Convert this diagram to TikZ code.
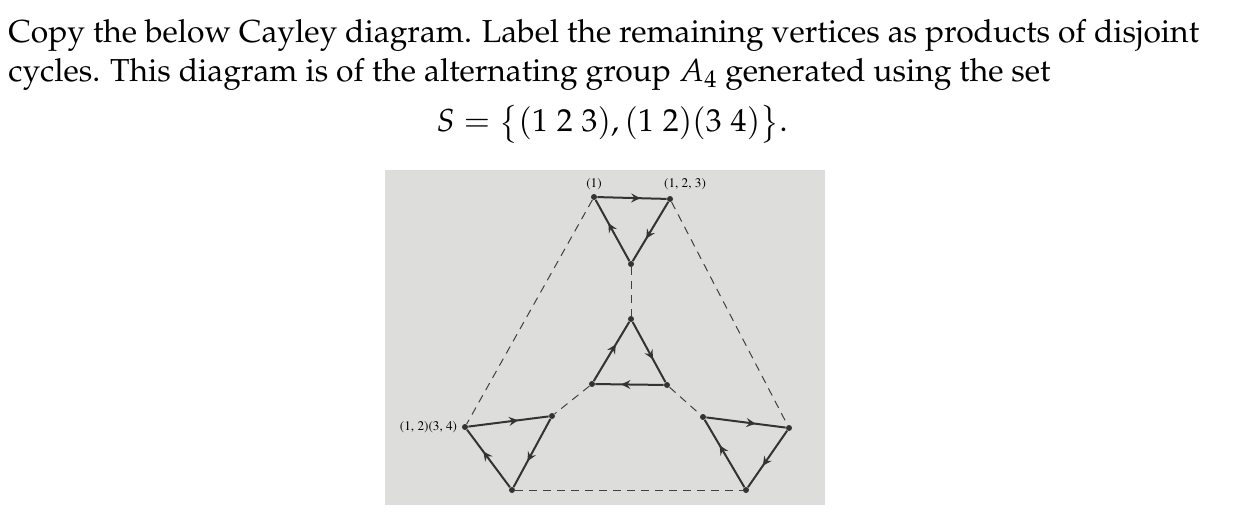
\documentclass[tikz,border=0pt]{standalone}
\usepackage[T1]{fontenc}
\usepackage{mathpazo}
\usepackage{amsmath}
\usepackage{tikz}
\usetikzlibrary{arrows, decorations.markings}

\tikzset{
  vtx/.style={circle, fill=black!80, inner sep=0pt, minimum size=3pt},
  cyc/.style={draw=black!80, line width=1pt, postaction={decorate},
    decoration={markings, mark=at position 0.62 with {\arrow{stealth}}}},
  flip/.style={draw=black!75, line width=0.5pt, dash pattern=on 4pt off 3pt},
  lbl/.style={inner sep=0.75pt, font=\fontfamily{ptm}\fontsize{6.6}{8}\selectfont},
  head/.style={inner sep=0pt, font=\fontsize{15.9}{20}\selectfont}
}

\begin{document}
\begin{tikzpicture}[x=0.5pt,y=0.5pt,yscale=-1,xscale=1]
\useasboundingbox (0,0) rectangle (1236,518);

%Shape: Photo background
\fill [color={rgb, 255:red, 221; green, 221; blue, 219}] (385,170) rectangle (825,505);

% Text Node
\node [head, anchor=base west] (line1) at (8,43) {Copy the below Cayley diagram. Label the remaining vertices as products of disjoint};
% Text Node
\node [head, anchor=base west] (line2) at (8,82) {cycles. This diagram is of the alternating group $A_4$ generated using the set};
% Text Node
\node [head, anchor=base] (set) at (612,132) {$S=\big\{(1\;2\;3),(1\;2)(3\;4)\big\}.$};

%Vertices: top triangle
\node [vtx] (e) at (594,197) {};
\node [vtx] (a) at (670,199) {};
\node [vtx] (aa) at (631,264) {};
%Vertices: middle triangle
\node [vtx] (mt) at (631,319) {};
\node [vtx] (ml) at (592,384) {};
\node [vtx] (mr) at (667,385) {};
%Vertices: left triangle
\node [vtx] (b) at (465,427) {};
\node [vtx] (lr) at (552,416) {};
\node [vtx] (lb) at (512,490) {};
%Vertices: right triangle
\node [vtx] (rl) at (703,417) {};
\node [vtx] (rr) at (789,428) {};
\node [vtx] (rb) at (746,490) {};

%Straight Lines: (1 2 3) cycles
\draw [cyc] (e) -- (a);
\draw [cyc] (a) -- (aa);
\draw [cyc] (aa) -- (e);
\draw [cyc] (mt) -- (mr);
\draw [cyc] (mr) -- (ml);
\draw [cyc] (ml) -- (mt);
\draw [cyc] (b) -- (lr);
\draw [cyc] (lr) -- (lb);
\draw [cyc] (lb) -- (b);
\draw [cyc] (rl) -- (rr);
\draw [cyc] (rr) -- (rb);
\draw [cyc] (rb) -- (rl);

%Dashed Lines: (1 2)(3 4)
\draw [flip] (e) -- (b);
\draw [flip] (a) -- (rr);
\draw [flip] (aa) -- (mt);
\draw [flip] (ml) -- (lr);
\draw [flip] (mr) -- (rl);
\draw [flip] (lb) -- (rb);

% Text Node
\node [lbl, anchor=south] (le) at (594,192) {(1)};
% Text Node
\node [lbl, anchor=south] (la) at (685,192) {(1, 2, 3)};
% Text Node
\node [lbl, anchor=east] (lb2) at (459,427) {(1, 2)(3, 4)};

\end{tikzpicture}
\end{document}
